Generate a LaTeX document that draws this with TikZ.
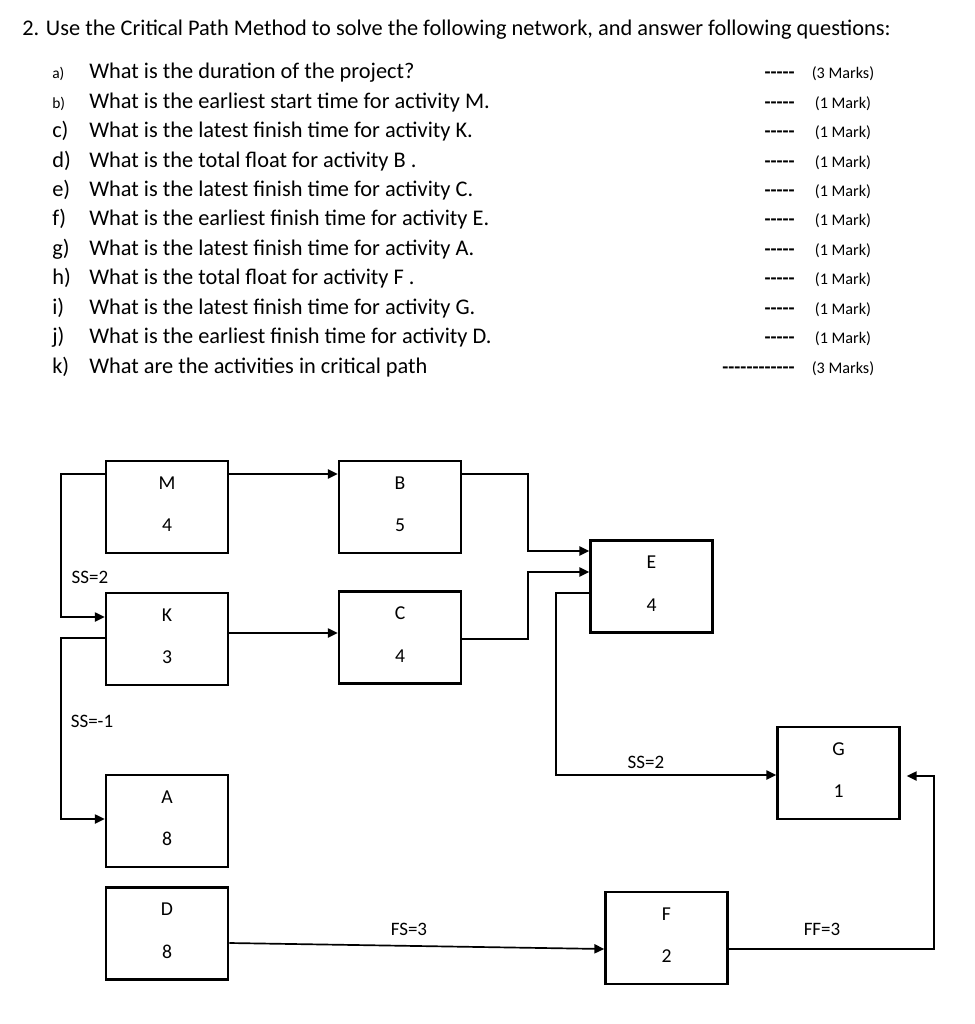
\documentclass[tikz,border=0pt]{standalone}
\usepackage{fontspec}
\setmainfont{Carlito}
\usetikzlibrary{arrows.meta,calc}

\newcommand{\dashrun}[1]{\foreach \n in {1,...,#1}{\mbox{-}}}

\begin{document}
\begin{tikzpicture}[x=0.025cm, y=-0.025cm,
  act/.style={rectangle, draw, line width=1.8pt, minimum width=3.05cm, minimum height=2.3cm, align=center, inner sep=0pt, text depth=4pt, font=\fontsize{14}{30}\selectfont},
  arr/.style={-{Triangle[length=7pt,width=6.5pt]}, line width=1.2pt},
  lag/.style={font=\fontsize{13.5}{16}\selectfont, inner sep=1pt},
  qtext/.style={anchor=base west, inner sep=0pt, font=\fontsize{15.9}{18}\selectfont},
  pts/.style={anchor=base, inner sep=0pt, font=\fontsize{11.5}{14}\selectfont}
]
  \useasboundingbox (0,0) rectangle (974,1024);

  % questions
  \node[qtext] (title) at (22,36) {2. Use the Critical Path Method to solve the following network, and answer following questions:};
  \foreach \l/\s/\txt [count=\i from 0] in {
      a/11/What is the duration of the project?,
      b/11/What is the earliest start time for activity M.,
      c/15.9/What is the latest finish time for activity K.,
      d/15.9/What is the total float for activity B .,
      e/15.9/What is the latest finish time for activity C.,
      f/15.9/What is the earliest finish time for activity E.,
      g/15.9/What is the latest finish time for activity A.,
      h/15.9/What is the total float for activity F .,
      i/15.9/What is the latest finish time for activity G.,
      j/15.9/What is the earliest finish time for activity D.,
      k/15.9/What are the activities in critical path}{
    \node[qtext, font=\fontsize{\s}{18}\selectfont] (ql\i) at (52,{79+29.4*\i}) {\l)};
    \node[qtext] (q\i) at (89,{79+29.4*\i}) {\txt};
  }
  \foreach \d/\m [count=\i from 0] in {5/3 Marks, 5/1 Mark, 5/1 Mark, 5/1 Mark, 5/1 Mark,
      5/1 Mark, 5/1 Mark, 5/1 Mark, 5/1 Mark, 5/1 Mark, 12/3 Marks}{
    \node[pts, anchor=base east, font=\fontsize{14}{14}\bfseries] (dash\i) at (795,{79+29.4*\i}) {\dashrun{\d}};
    \node[pts] (pts\i) at (843,{79+29.4*\i}) {(\m)};
  }

  % activities
  \node[act] (M) at (167,507) {M\\4};
  \node[act] (B) at (400,507) {B\\5};
  \node[act] (K) at (167,639) {K\\3};
  \node[act] (C) at (400,637.5) {C\\4};
  \node[act] (A) at (167,821) {A\\8};
  \node[act] (D) at (167,933.5) {D\\8};
  \node[act] (E) at (651.5,586.5) {E\\4};
  \node[act] (G) at (838.5,773) {G\\1};
  \node[act] (F) at (666.5,938) {F\\2};

  % links
  \draw[arr] ($(M.west)+(0,-33)$) -- ++(-44,0) |- ($(K.west)+(0,-22)$);
  \draw[arr] ($(K.west)+(0,-1)$) -- ++(-44,0) |- ($(A.west)+(0,-2)$);
  \draw[arr] ($(M.east)+(0,-33)$) -- ($(B.west)+(0,-33)$);
  \draw[arr] ($(K.east)+(0,-6)$) -- ($(C.west)+(0,-4.5)$);
  \draw[arr] ($(B.east)+(0,-33)$) -- ++(66,0) |- ($(E.west)+(0,-35.5)$);
  \draw[arr] ($(C.east)+(0,1.5)$) -- ++(66,0) |- ($(E.west)+(0,-14.5)$);
  \draw[arr] ($(E.west)+(0,6.5)$) -- ++(-33,0) |- ($(G.west)+(0,2)$);
  \draw[arr] ($(D.east)+(0,9.5)$) -- ($(F.west)+(0,11)$);
  \draw[arr, shorten >=0.15cm] ($(F.east)+(0,11)$) -- ++(205,0) |- ($(G.east)+(0,3)$);

  % lags
  \node[lag] (ss1) at (90,577) {SS=2};
  \node[lag] (ss2) at (92,721) {SS=-1};
  \node[lag] (ss3) at (646,762) {SS=2};
  \node[lag] (fs1) at (409,929) {FS=3};
  \node[lag] (ff1) at (822,929) {FF=3};
\end{tikzpicture}
\end{document}
